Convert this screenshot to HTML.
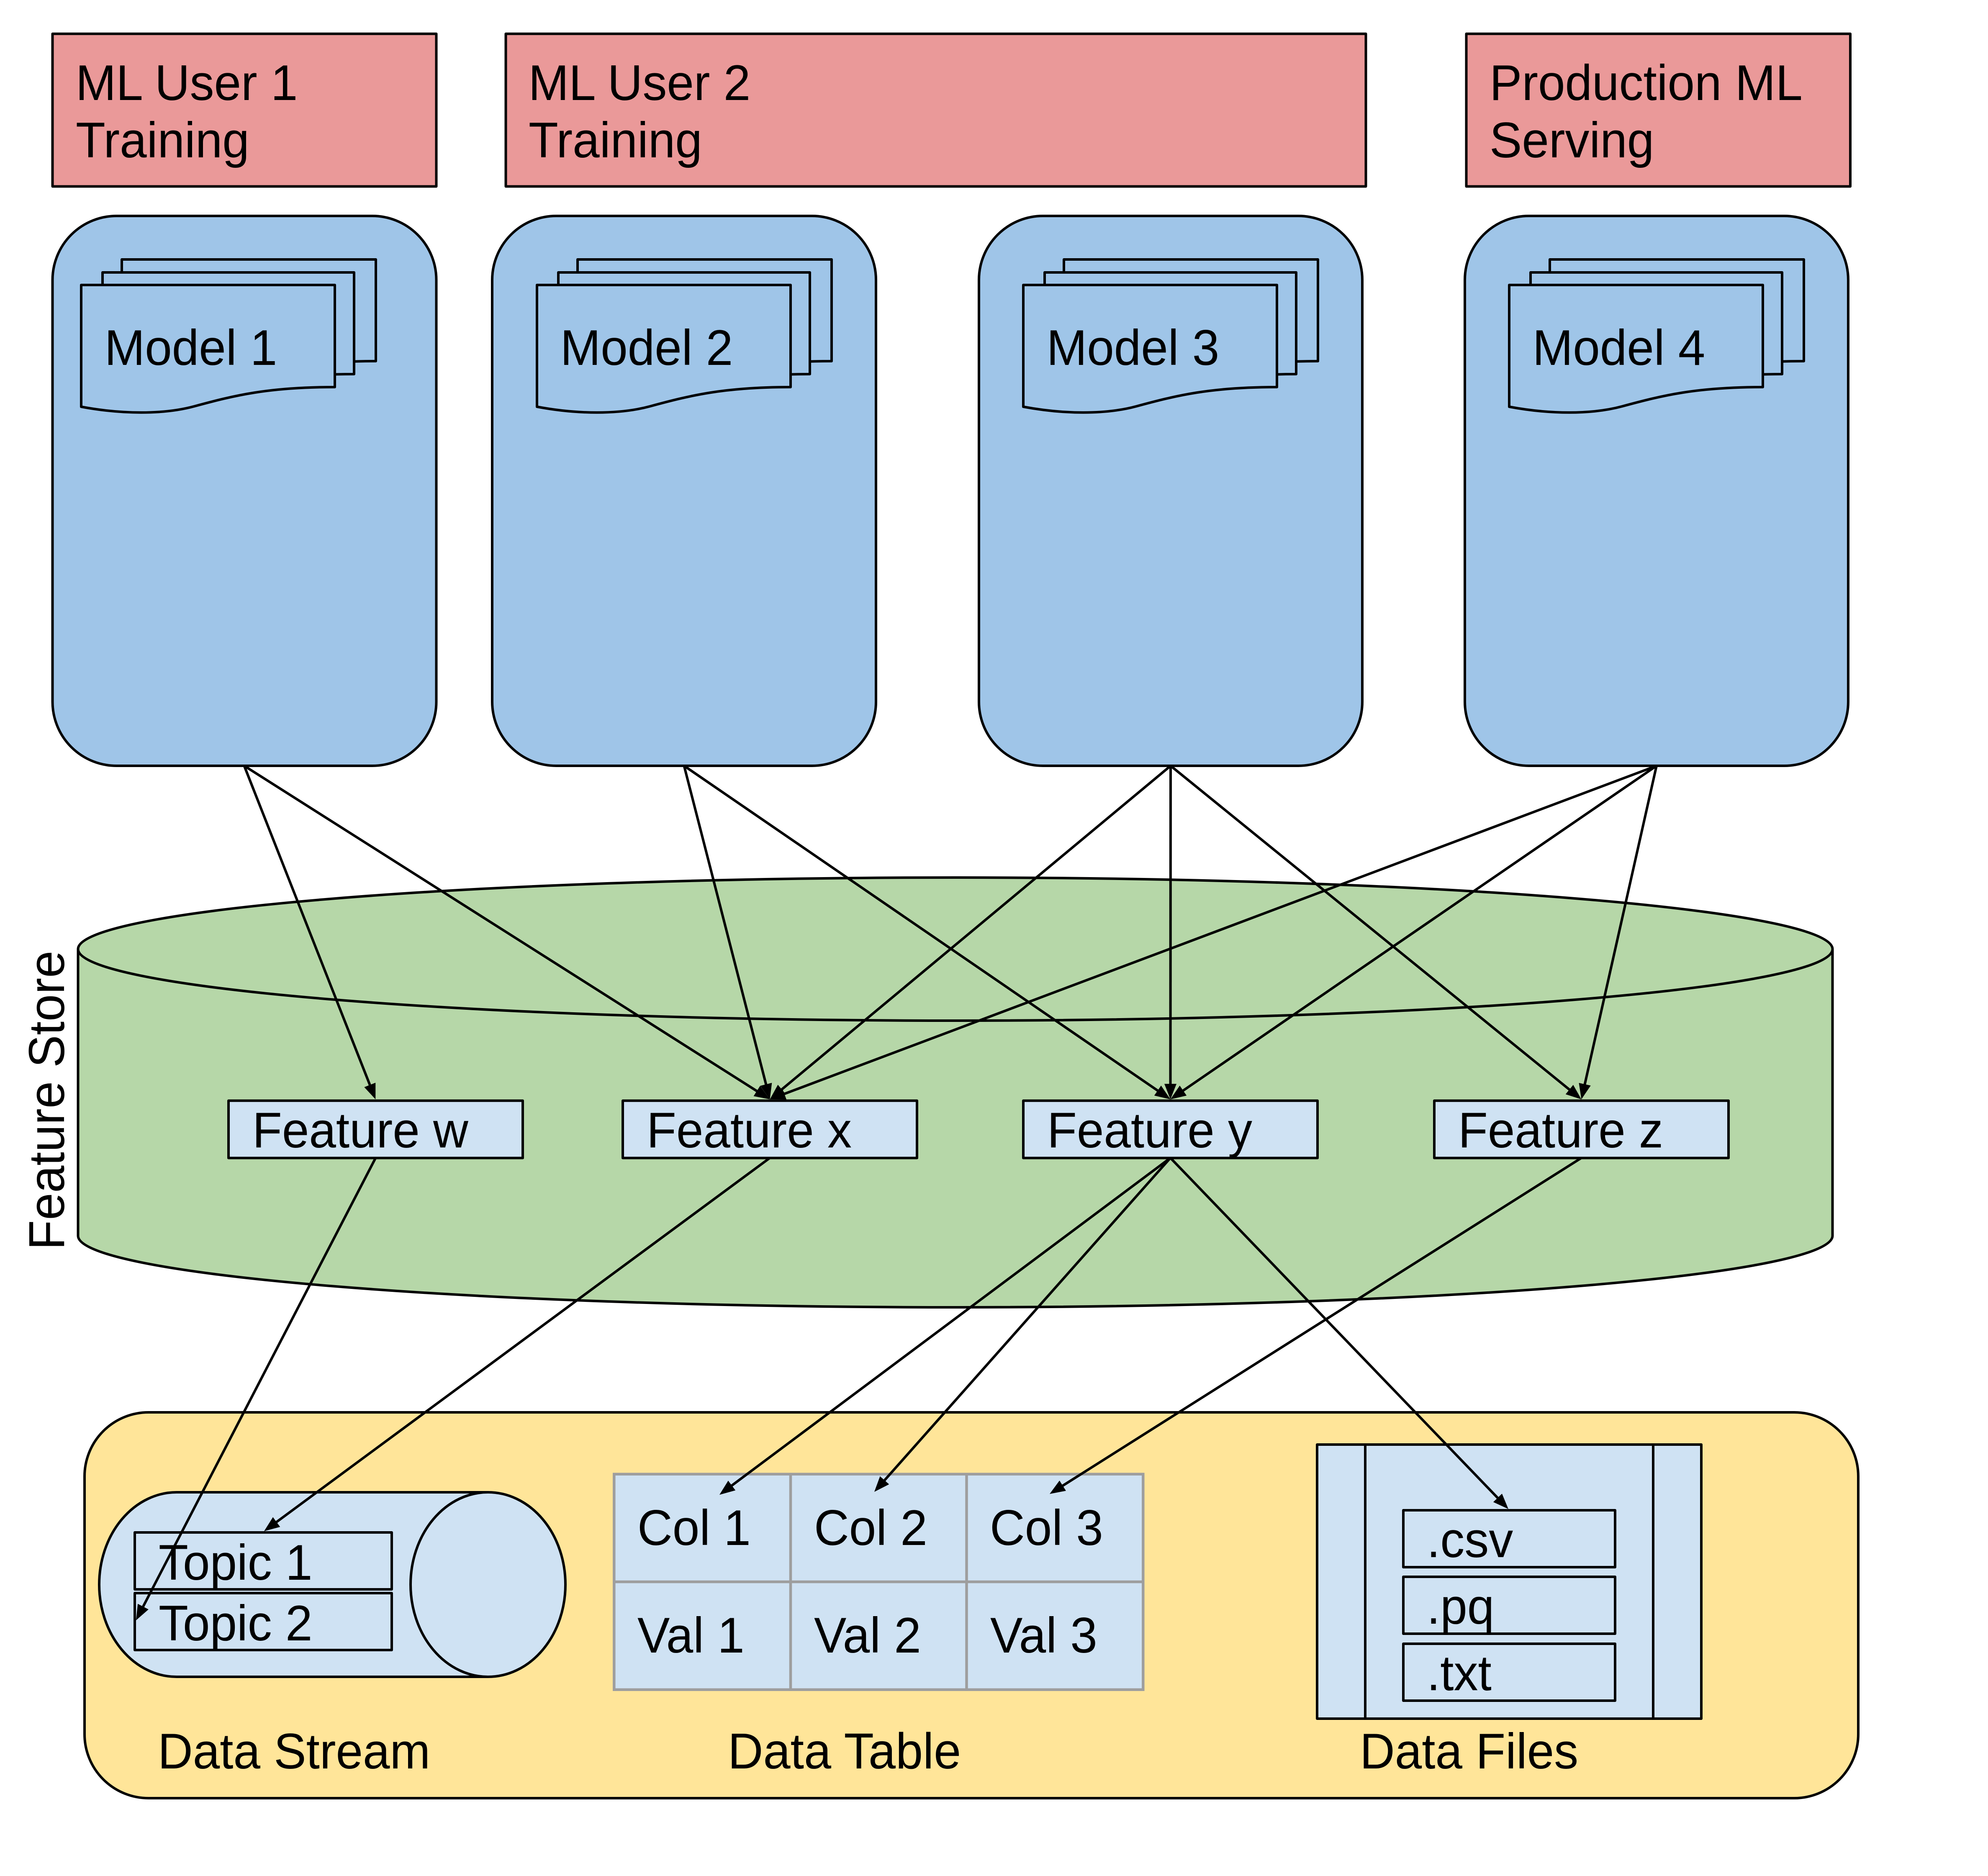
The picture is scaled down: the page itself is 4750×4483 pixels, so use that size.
<!DOCTYPE html>
<html><head><meta charset="utf-8"><title>Feature Store</title>
<style>html,body{margin:0;padding:0;background:#fff}svg{display:block}text{font-family:"Liberation Sans",Arial,sans-serif;font-size:116px;fill:#000}</style></head>
<body>
<svg xmlns="http://www.w3.org/2000/svg" width="4750" height="4483" viewBox="0 0 4750 4483">
<defs>
<marker id="a" markerUnits="userSpaceOnUse" markerWidth="38" markerHeight="30" refX="37" refY="14.500" orient="auto"><path d="M0 0L37 14.500L0 29Z" fill="#000"/></marker>
<g id="doc" fill="#9fc5e8" stroke="#000" stroke-width="6" stroke-linejoin="round">
<path d="M291 620H898V863C738 863 657 883 561 909C487 929 387 928 291 910Z"/>
<path d="M245 651H846V894C686 894 606 914 510 940C436 960 336 959 245 941Z"/>
<path d="M194 681H800V925C640 925 560 945 464 971C390 991 290 990 194 972Z"/>
</g>
</defs>
<rect width="4750" height="4483" fill="#fff"/>
<g stroke="#000" stroke-width="6" stroke-linejoin="round">
<rect x="125.500" y="80.700" width="917" height="364.800" fill="#ea9999"/>
<rect x="1208.500" y="80.700" width="2055" height="364.800" fill="#ea9999"/>
<rect x="3503.500" y="80.700" width="917.500" height="364.800" fill="#ea9999"/>
<rect x="125.500" y="516" width="917" height="1314" rx="153" ry="153" fill="#9fc5e8"/>
<rect x="1176" y="516" width="917" height="1314" rx="153" ry="153" fill="#9fc5e8"/>
<rect x="2339" y="516" width="916" height="1314" rx="153" ry="153" fill="#9fc5e8"/>
<rect x="3500" y="516" width="916" height="1314" rx="153" ry="153" fill="#9fc5e8"/>
</g>
<use href="#doc"/>
<use href="#doc" x="1089"/>
<use href="#doc" x="2251"/>
<use href="#doc" x="3412"/>
<g stroke="#000" stroke-width="6" stroke-linejoin="round">
<path d="M186.500 2268V2953A2096 171 0 0 0 4378.500 2953V2268Z" fill="#b6d7a8"/>
<ellipse cx="2282.500" cy="2268" rx="2096" ry="171" fill="#b6d7a8"/>
<rect x="546" y="2630.300" width="703" height="137" fill="#cfe2f3"/>
<rect x="1488" y="2630.300" width="703" height="137" fill="#cfe2f3"/>
<rect x="2445" y="2630.300" width="703" height="137" fill="#cfe2f3"/>
<rect x="3427" y="2630.300" width="703" height="137" fill="#cfe2f3"/>
<rect x="202" y="3375" width="4238" height="922" rx="153" ry="153" fill="#ffe599"/>
<path d="M1166 3566H422A185 220.500 0 0 0 422 4007H1166Z" fill="#cfe2f3"/>
<ellipse cx="1166" cy="3786.500" rx="185" ry="220.500" fill="#cfe2f3"/>
<rect x="322" y="3662" width="614" height="136" fill="#cfe2f3"/>
<rect x="322" y="3807" width="614" height="136" fill="#cfe2f3"/>
<rect x="3147" y="3452" width="918" height="655" fill="#cfe2f3"/>
<path d="M3262 3452V4107M3950 3452V4107" fill="none"/>
<rect x="3353" y="3609" width="506" height="136" fill="#cfe2f3"/>
<rect x="3353" y="3768" width="506" height="136" fill="#cfe2f3"/>
<rect x="3353" y="3928" width="506" height="136" fill="#cfe2f3"/>
</g>
<g stroke="#9e9e9e" stroke-width="6.500" fill="#cfe2f3">
<rect x="1467.300" y="3522.700" width="1264" height="515"/>
<path d="M1467.300 3780H2731.300M1889 3522.700V4037.700M2309.500 3522.700V4037.700" fill="none"/>
</g>
<text transform="translate(180.700 239) scale(1 1.03)">ML User 1</text><text transform="translate(181 376) scale(1 1.03)">Training</text>
<text transform="translate(1262.500 239) scale(1 1.03)">ML User 2</text><text transform="translate(1263 376) scale(1 1.03)">Training</text>
<text transform="translate(3559 239) scale(1 1.03)">Production ML</text><text transform="translate(3559 376) scale(1 1.03)">Serving</text>
<text transform="translate(249.600 872) scale(1 1.03)">Model 1</text>
<text transform="translate(1338.600 872) scale(1 1.03)">Model 2</text>
<text transform="translate(2500.600 872) scale(1 1.03)">Model 3</text>
<text transform="translate(3661.600 872) scale(1 1.03)">Model 4</text>
<text transform="translate(603 2742) scale(1 1.03)">Feature w</text>
<text transform="translate(1545 2742) scale(1 1.03)">Feature x</text>
<text transform="translate(2502 2742) scale(1 1.03)">Feature y</text>
<text transform="translate(3484 2742) scale(1 1.03)">Feature z</text>
<text transform="translate(153 2987) rotate(-90) scale(1 1.03)" style="font-size:117px">Feature Store</text>
<text transform="translate(379 3775) scale(1 1.03)">Topic 1</text>
<text transform="translate(379 3920) scale(1 1.03)">Topic 2</text>
<text transform="translate(377 4226) scale(1 1.03)">Data Stream</text>
<text transform="translate(1523 3692) scale(1 1.03)">Col 1</text><text transform="translate(1945 3692) scale(1 1.03)">Col 2</text><text transform="translate(2365 3692) scale(1 1.03)">Col 3</text>
<text transform="translate(1523 3949) scale(1 1.03)">Val 1</text><text transform="translate(1945 3949) scale(1 1.03)">Val 2</text><text transform="translate(2366 3949) scale(1 1.03)">Val 3</text>
<text transform="translate(1739 4226) scale(1 1.03)" style="font-size:117px">Data Table</text>
<text transform="translate(3409 3721) scale(1 1.03)">.csv</text>
<text transform="translate(3409 3880) scale(1 1.03)">.pq</text>
<text transform="translate(3409 4039) scale(1 1.03)">.txt</text>
<text transform="translate(3249 4226) scale(1 1.03)">Data Files</text>
<g stroke="#000" stroke-width="6" fill="none" stroke-dasharray="985 100">
<line pathLength="1000" x1="583.500" y1="1830" x2="897.300" y2="2627" marker-end="url(#a)"/>
<line pathLength="1000" x1="583.500" y1="1830" x2="1839.500" y2="2627" marker-end="url(#a)"/>
<line pathLength="1000" x1="1634.500" y1="1830" x2="1839.500" y2="2627" marker-end="url(#a)"/>
<line pathLength="1000" x1="1634.500" y1="1830" x2="2796.500" y2="2627" marker-end="url(#a)"/>
<line pathLength="1000" x1="2797" y1="1830" x2="1839.500" y2="2627" marker-end="url(#a)"/>
<line pathLength="1000" x1="2797" y1="1830" x2="2796.500" y2="2627" marker-end="url(#a)"/>
<line pathLength="1000" x1="2797" y1="1830" x2="3778.500" y2="2627" marker-end="url(#a)"/>
<line pathLength="1000" x1="3958" y1="1830" x2="1839.500" y2="2627" marker-end="url(#a)"/>
<line pathLength="1000" x1="3958" y1="1830" x2="2796.500" y2="2627" marker-end="url(#a)"/>
<line pathLength="1000" x1="3958" y1="1830" x2="3778.500" y2="2627" marker-end="url(#a)"/>
<line pathLength="1000" x1="897.500" y1="2767" x2="325" y2="3872" marker-end="url(#a)"/>
<line pathLength="1000" x1="1839.500" y1="2767" x2="631" y2="3659" marker-end="url(#a)"/>
<line pathLength="1000" x1="2796.500" y1="2767" x2="1719" y2="3572" marker-end="url(#a)"/>
<line pathLength="1000" x1="2796.500" y1="2767" x2="2089" y2="3565" marker-end="url(#a)"/>
<line pathLength="1000" x1="3778.500" y1="2767" x2="2508" y2="3570" marker-end="url(#a)"/>
<line pathLength="1000" x1="2796.500" y1="2767" x2="3604" y2="3606" marker-end="url(#a)"/>
</g>
</svg>
</body></html>
